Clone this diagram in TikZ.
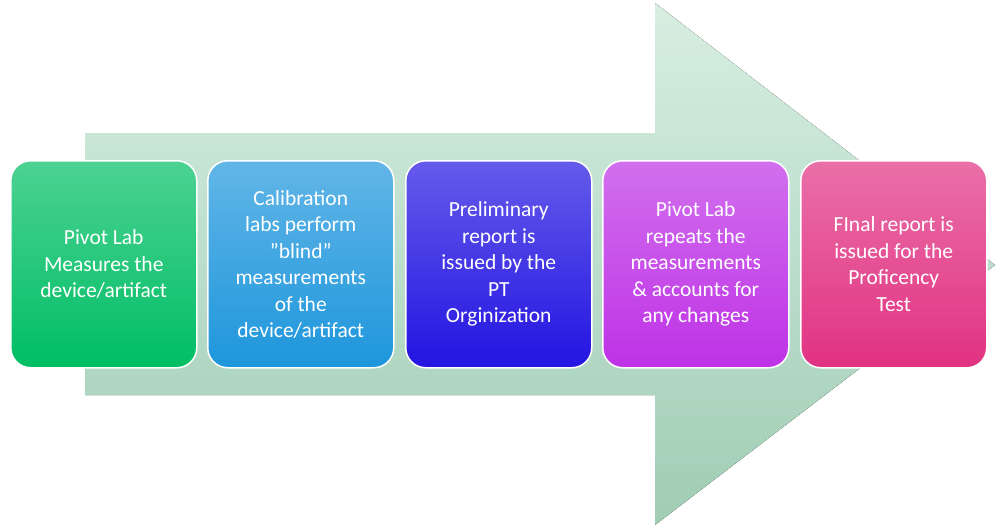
\documentclass[tikz,border=0pt]{standalone}
\usepackage{fontspec}
\setmainfont[Ligatures=ResetAll]{Carlito}
\begin{document}
\begin{tikzpicture}[x=1pt,y=-1pt,
  stepbox/.style={draw=white,line width=1.5pt,rounded corners=20pt,minimum width=186pt,minimum height=207pt,align=center,font=\fontsize{21.5}{26.5}\selectfont,text=white,anchor=north west}]
\useasboundingbox (0,0) rectangle (997,527);
\definecolor{ga}{RGB}{215,238,225}\definecolor{gb}{RGB}{160,205,180}
\fill[top color=ga,bottom color=gb] (85,133) -- (655,133) -- (655,3) -- (995,265) -- (655,525) -- (655,395) -- (85,395) -- cycle;
\definecolor{c1}{RGB}{0,190,100}\definecolor{c2}{RGB}{30,150,220}\definecolor{c3}{RGB}{35,20,225}\definecolor{c4}{RGB}{190,50,230}\definecolor{c5}{RGB}{225,50,130}
\node[stepbox,top color=c1!70!white,bottom color=c1] (a) at (10,160) {Pivot Lab\\Measures the\\device/artifact};
\node[stepbox,top color=c2!70!white,bottom color=c2] (b) at (207,160) {Calibration\\labs perform\\"blind"\\measurements\\of the\\device/artifact};
\node[stepbox,top color=c3!70!white,bottom color=c3] (c) at (405,160) {Preliminary\\report is\\issued by the\\PT\\Orginization};
\node[stepbox,top color=c4!70!white,bottom color=c4] (d) at (602,160) {Pivot Lab\\repeats the\\measurements\\\& accounts for\\any changes};
\node[stepbox,top color=c5!70!white,bottom color=c5] (e) at (800,160) {FInal report is\\issued for the\\Proficency\\Test};
\end{tikzpicture}
\end{document}
